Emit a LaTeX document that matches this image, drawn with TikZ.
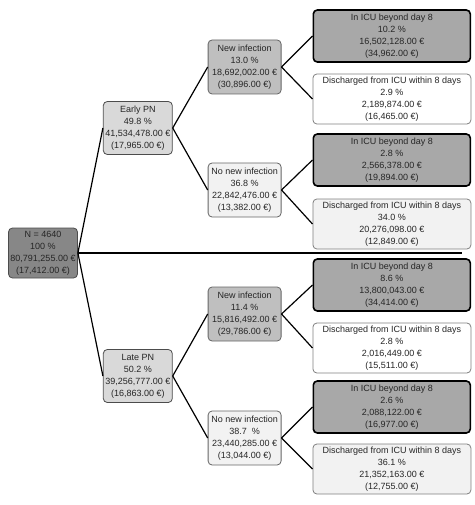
\documentclass[tikz,border=0pt]{standalone}
\usepackage{fontspec}
\setmainfont{Liberation Sans}
\usepackage{tikz}
\usetikzlibrary{positioning}
\usepackage{xcolor}
\definecolor{rootgray}{rgb}{0.53,0.53,0.53}
\definecolor{pngray}{rgb}{0.85,0.85,0.85}
\definecolor{infgray}{rgb}{0.75,0.75,0.75}
\definecolor{freegray}{rgb}{0.95,0.95,0.95}
\definecolor{icugray}{rgb}{0.66,0.66,0.66}
\tikzset{
  cost/.style   ={rectangle, rounded corners=4pt, draw=black!50, fill=white,
                  align=center, font=\fontsize{9}{12}\selectfont, text=black!85,
                  minimum height=53pt, inner sep=1.5pt, line width=0.8pt},
  costN/.style  ={cost, fill=rootgray, draw=black!70, minimum width=69pt,
                  minimum height=50pt},                              % root
  costP/.style  ={cost, fill=pngray,   draw=black!70, minimum width=69pt},  % PN
  costI/.style  ={cost, fill=infgray,  draw=black!60, minimum width=73pt,
                  minimum height=54pt},                              % infection
  costF/.style  ={costI, fill=freegray},                             % no infection
  costU/.style  ={cost, fill=icugray, draw=black, line width=1.6pt,
                  minimum width=157pt, minimum height=52pt},         % ICU
  costD/.style  ={cost, minimum width=158pt, minimum height=50pt},   % discharged
  costDL/.style ={costD, fill=freegray},
  branch/.style ={line width=1.2pt, draw=black},
}

\begin{document}
\begin{tikzpicture}[x=1pt, y=1pt, node distance=25pt]
  \useasboundingbox (0,0) rectangle (474,-505);
  \node[costN] (root) at (43,-253) {N = 4640\\100 \%\\80,791,255.00 €\\(17,412.00 €)};
  \node[costP, right=25pt of root, yshift=125pt]  (early) {Early PN\\49.8 \%\\41,534,478.00 €\\(17,965.00 €)};
  \node[costP, right=25pt of root, yshift=-123pt] (late)  {Late PN\\50.2 \%\\39,256,777.00 €\\(16,863.00 €)};
  \node[costI, right=35pt of early, yshift=61pt]  (inf1)  {New infection\\13.0 \%\\18,692,002.00 €\\(30,896.00 €)};
  \node[costF, right=35pt of early, yshift=-62pt] (free1) {No new infection\\36.8 \%\\22,842,476.00 €\\(13,382.00 €)};
  \node[costI, right=35pt of late, yshift=62pt]   (inf2)  {New infection\\11.4 \%\\15,816,492.00 €\\(29,786.00 €)};
  \node[costF, right=35pt of late, yshift=-62pt]  (free2) {No new infection\\38.7\ \ \%\\23,440,285.00 €\\(13,044.00 €)};
  \node[costU,  right=31pt of inf1, yshift=31pt]   (icu1) {In ICU beyond day 8\\10.2 \%\\16,502,128.00 €\\(34,962.00 €)};
  \node[costD,  right=31pt of inf1, yshift=-32pt]  (dis1) {Discharged from ICU within 8 days\\2.9 \%\\2,189,874.00 €\\(16,465.00 €)};
  \node[costU,  right=31pt of free1, yshift=30pt]  (icu2) {In ICU beyond day 8\\2.8 \%\\2,566,378.00 €\\(19,894.00 €)};
  \node[costDL, right=31pt of free1, yshift=-34pt] (dis2) {Discharged from ICU within 8 days\\34.0 \%\\20,276,098.00 €\\(12,849.00 €)};
  \node[costU,  right=31pt of inf2, yshift=29pt]   (icu3) {In ICU beyond day 8\\8.6 \%\\13,800,043.00 €\\(34,414.00 €)};
  \node[costD,  right=31pt of inf2, yshift=-34pt]  (dis3) {Discharged from ICU within 8 days\\2.8 \%\\2,016,449.00 €\\(15,511.00 €)};
  \node[costU,  right=31pt of free2, yshift=31pt]  (icu4) {In ICU beyond day 8\\2.6 \%\\2,088,122.00 €\\(16,977.00 €)};
  \node[costDL, right=31pt of free2, yshift=-31pt] (dis4) {Discharged from ICU within 8 days\\36.1 \%\\21,352,163.00 €\\(12,755.00 €)};
  \coordinate (cut) at (462,-253);
  \draw[branch] (root.east) -- (early.west);
  \draw[branch] (root.east) -- (late.west);
  \draw[branch] (root.east) -- (cut);
  \draw[branch] (early.east) -- (inf1.west);
  \draw[branch] (early.east) -- (free1.west);
  \draw[branch] (late.east) -- (inf2.west);
  \draw[branch] (late.east) -- (free2.west);
  \draw[branch] (inf1.east) -- (icu1.west);
  \draw[branch] (inf1.east) -- (dis1.west);
  \draw[branch] (free1.east) -- (icu2.west);
  \draw[branch] (free1.east) -- (dis2.west);
  \draw[branch] (inf2.east) -- (icu3.west);
  \draw[branch] (inf2.east) -- (dis3.west);
  \draw[branch] (free2.east) -- (icu4.west);
  \draw[branch] (free2.east) -- (dis4.west);
\end{tikzpicture}
\end{document}
